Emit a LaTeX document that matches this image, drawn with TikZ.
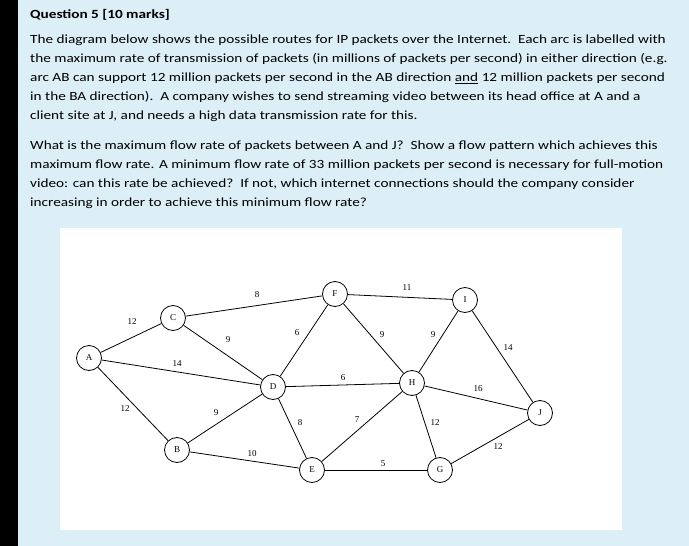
\documentclass[tikz,border=0pt]{standalone}
\usepackage{fontspec}
\usepackage{graphicx}
\setmainfont{Carlito}
\newfontfamily\labelfont{Liberation Serif}
\definecolor{pagebg}{HTML}{DCEEF6}
\newcommand{\wide}[1]{\scalebox{1.22}[1]{#1}}
\tikzset{
  site/.style={circle,draw,thick,fill=white,minimum size=25pt,inner sep=0pt,font=\labelfont\fontsize{9}{9}\selectfont},
  rate/.style={font=\labelfont\fontsize{9}{9}\selectfont,inner sep=1pt},
  txt/.style={anchor=west,inner sep=0pt,font=\fontsize{12.5}{13}\selectfont}
}
\begin{document}
\begin{tikzpicture}[x=1pt,y=-1pt]
\useasboundingbox (0,0) rectangle (689,546);
\fill[pagebg] (0,0) rectangle (689,546);
\fill[black] (0,0) rectangle (18,546);
\fill[white] (60,228) rectangle (622,530);

\node[txt,font=\bfseries\fontsize{12.5}{13}\selectfont] (title) at (30,15) {\wide{Question 5 [10 marks]}};
\node[txt] (l1) at (30,40) {\wide{The diagram below shows the possible routes for IP packets over the Internet.\ \ Each arc is labelled with}};
\node[txt] (l2) at (30,59) {\wide{the maximum rate of transmission of packets (in millions of packets per second) in either direction (e.g.}};
\node[txt] (l3) at (30,78) {\wide{arc AB can support 12 million packets per second in the AB direction \underline{and} 12 million packets per second}};
\node[txt] (l4) at (30,97) {\wide{in the BA direction).\ \ A company wishes to send streaming video between its head office at A and a}};
\node[txt] (l5) at (30,116) {\wide{client site at J, and needs a high data transmission rate for this.}};
\node[txt] (m1) at (30,146) {\wide{What is the maximum flow rate of packets between A and J?\ \ Show a flow pattern which achieves this}};
\node[txt] (m2) at (30,165) {\wide{maximum flow rate. A minimum flow rate of 33 million packets per second is necessary for full-motion}};
\node[txt] (m3) at (30,184) {\wide{video: can this rate be achieved?\ \ If not, which internet connections should the company consider}};
\node[txt] (m4) at (30,203) {\wide{increasing in order to achieve this minimum flow rate?}};

% network
\node[site] (A) at (89,358) {A};
\node[site] (C) at (173,318) {C};
\node[site] (F) at (335,294) {F};
\node[site] (I) at (465,300) {I};
\node[site] (D) at (273,387) {D};
\node[site] (H) at (412,383) {H};
\node[site] (J) at (540,413) {J};
\node[site] (B) at (177,450) {B};
\node[site] (E) at (312,470) {E};
\node[site] (G) at (440,470) {G};

\draw[thick] (A) -- (C);
\draw[thick] (A) -- (D);
\draw[thick] (A) -- (B);
\draw[thick] (C) -- (F);
\draw[thick] (C) -- (D);
\draw[thick] (F) -- (I);
\draw[thick] (F) -- (D);
\draw[thick] (F) -- (H);
\draw[thick] (I) -- (H);
\draw[thick] (I) -- (J);
\draw[thick] (D) -- (H);
\draw[thick] (D) -- (B);
\draw[thick] (D) -- (E);
\draw[thick] (H) -- (J);
\draw[thick] (H) -- (E);
\draw[thick] (H) -- (G);
\draw[thick] (B) -- (E);
\draw[thick] (E) -- (G);
\draw[thick] (G) -- (J);

\node[rate] (cAC) at (132,322) {12};
\node[rate] (cCF) at (257,295) {8};
\node[rate] (cFI) at (407,288) {11};
\node[rate] (cCD) at (228,340) {9};
\node[rate] (cFD) at (297,333) {6};
\node[rate] (cFH) at (382,335) {9};
\node[rate] (cIH) at (433,335) {9};
\node[rate] (cIJ) at (508,348) {14};
\node[rate] (cAD) at (177,364) {14};
\node[rate] (cDH) at (343,378) {6};
\node[rate] (cHJ) at (478,389) {16};
\node[rate] (cAB) at (125,409) {12};
\node[rate] (cBD) at (216,413) {9};
\node[rate] (cDE) at (300,423) {8};
\node[rate] (cHE) at (357,420) {7};
\node[rate] (cHG) at (435,423) {12};
\node[rate] (cGJ) at (498,447) {12};
\node[rate] (cBE) at (252,454) {10};
\node[rate] (cEG) at (383,464) {5};
\end{tikzpicture}
\end{document}
